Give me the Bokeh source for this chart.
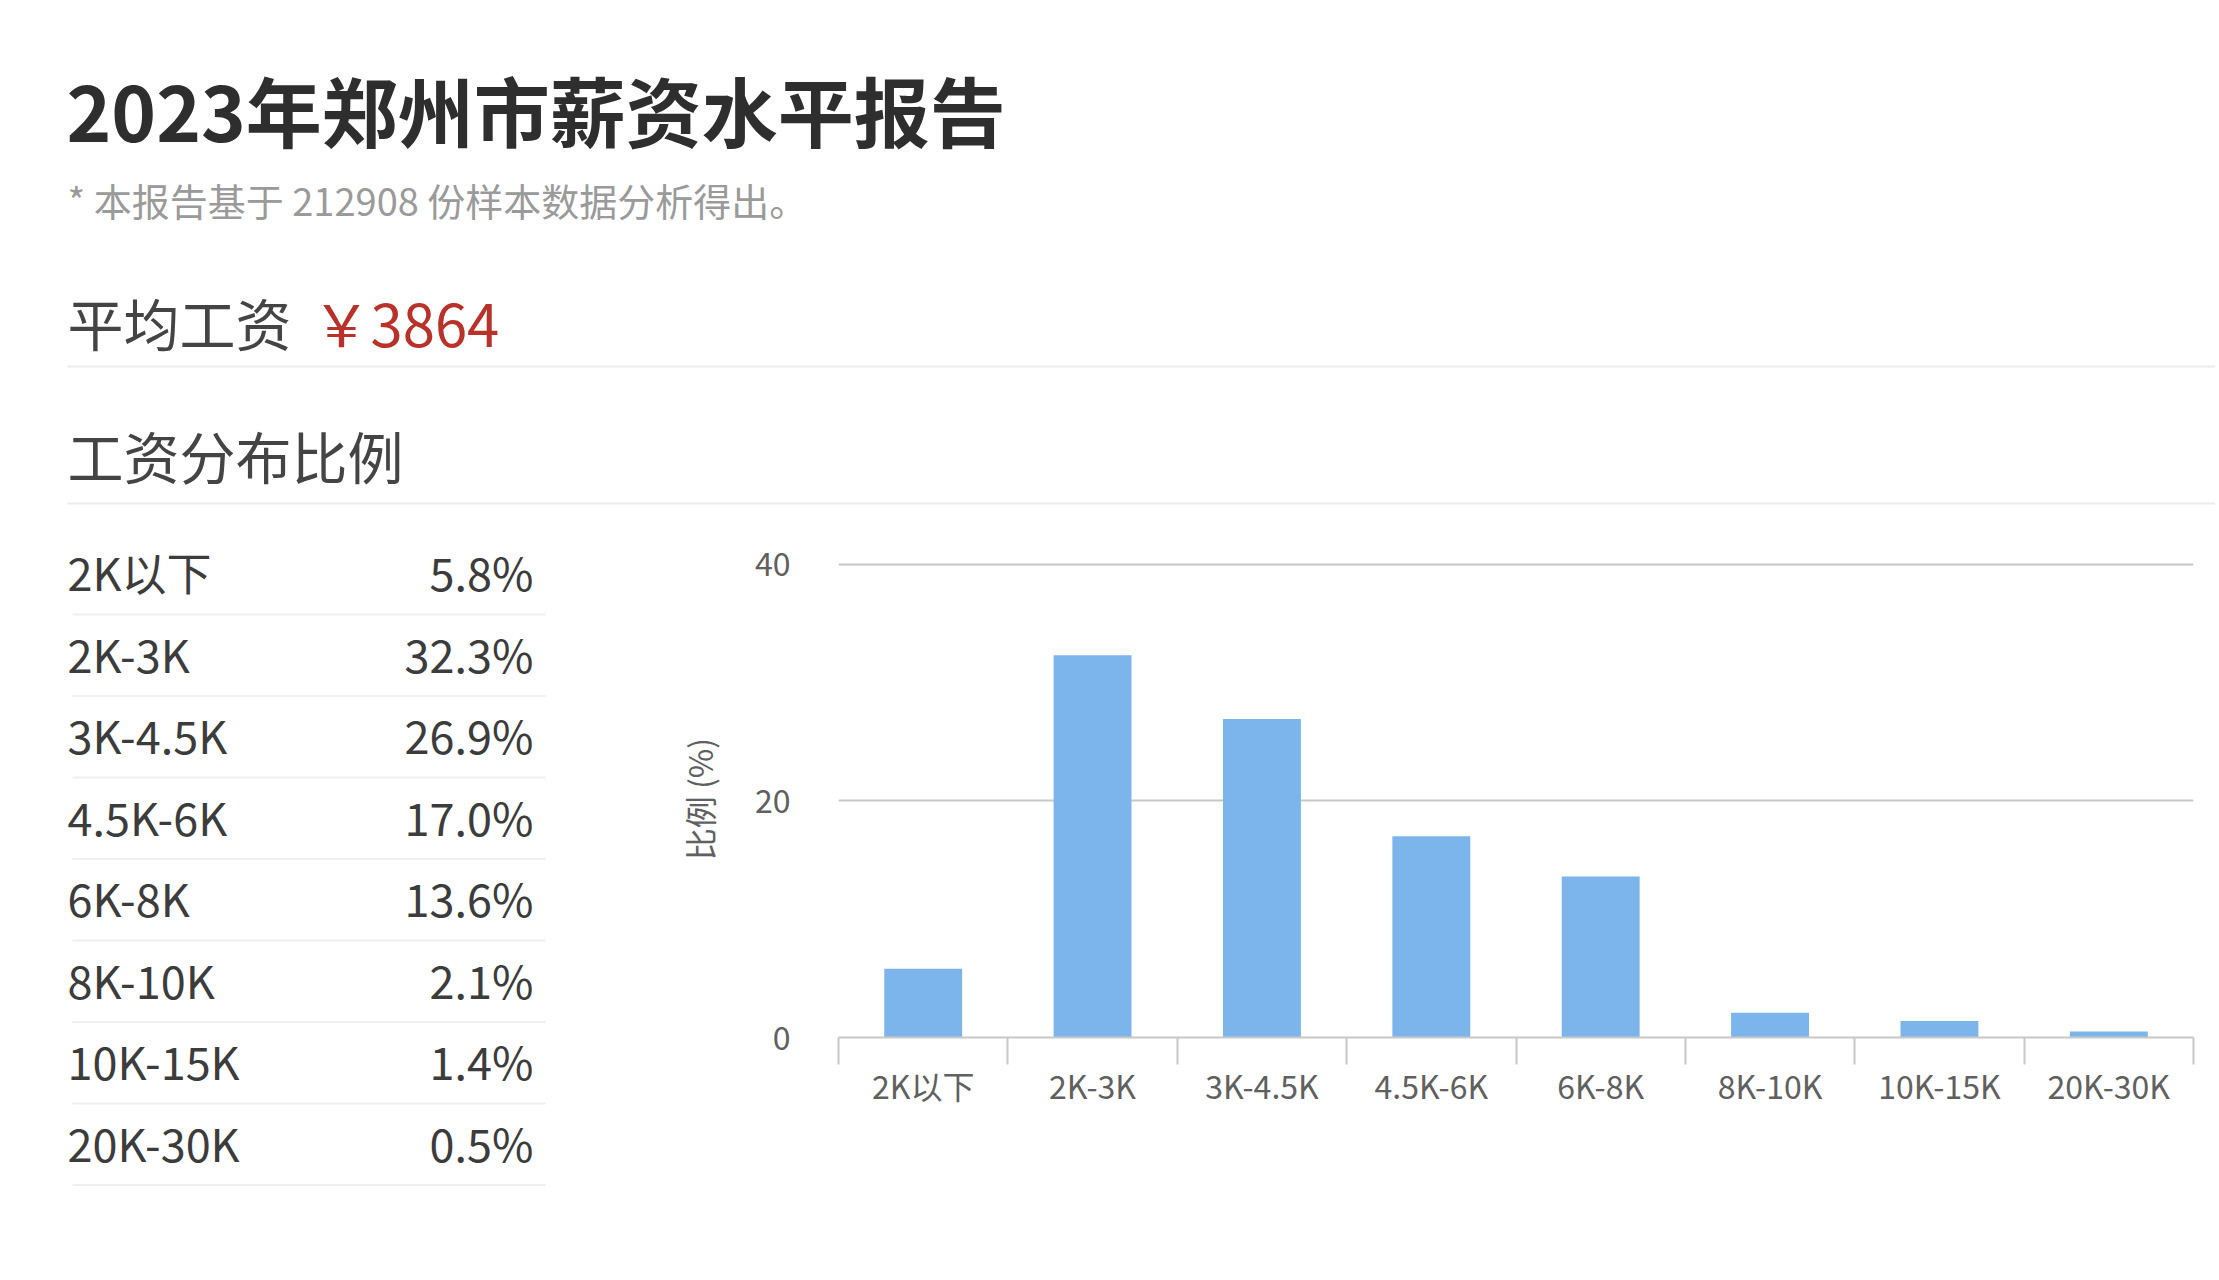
from bokeh.plotting import figure
from bokeh.layouts import column, row
from bokeh.models import Range1d, FixedTicker
from bokeh.core.properties import value
from bokeh.embed import file_html
from bokeh.resources import INLINE

# ---- data ----
title_text = "2023年郑州市薪资水平报告"
subtitle_text = "* 本报告基于 212908 份样本数据分析得出。"
avg_label = "平均工资"
avg_value = "￥3864"
section_title = "工资分布比例"
categories = ["2K以下", "2K-3K", "3K-4.5K", "4.5K-6K", "6K-8K", "8K-10K", "10K-15K", "20K-30K"]
shares = [5.8, 32.3, 26.9, 17.0, 13.6, 2.1, 1.4, 0.5]
y_ticks = [0, 20, 40]
y_label = "比例 (%)"

FONT = "Noto Sans CJK SC"
PAGE_W = 2215


def blank(width, height):
    f = figure(width=width, height=height, x_range=Range1d(0, width), y_range=Range1d(height, 0),
               output_backend="svg", toolbar_location=None, min_border=0)
    f.axis.visible = False
    f.grid.visible = False
    f.outline_line_color = None
    f.background_fill_color = "white"
    f.border_fill_color = "white"
    f.frame_align = False
    return f


# ---- header ----
HEAD_H = 520
head = blank(PAGE_W, HEAD_H)
head.text(x=[66], y=[108], text=[title_text], text_font=value(FONT), text_font_size=value("76px"),
          text_font_style="bold", text_color="#2e2e2e", text_baseline="middle", text_align="left")
head.text(x=[67], y=[199], text=[subtitle_text], text_font=value(FONT), text_font_size=value("38px"),
          text_color="#9a9a9a", text_baseline="middle", text_align="left")
head.text(x=[67], y=[321], text=[avg_label], text_font=value(FONT), text_font_size=value("56px"),
          text_color="#444444", text_baseline="middle", text_align="left")
head.text(x=[312], y=[321], text=[avg_value], text_font=value(FONT), text_font_size=value("58px"),
          text_color="#b8322a", text_baseline="middle", text_align="left")
head.text(x=[67], y=[454], text=[section_title], text_font=value(FONT), text_font_size=value("56px"),
          text_color="#444444", text_baseline="middle", text_align="left")
head.segment(x0=[67, 67], y0=[366, 503], x1=[PAGE_W, PAGE_W], y1=[366, 503],
             line_color="#ececec", line_width=2)

# ---- table ----
ROW_H = 740
TAB_W = 600
tab = blank(TAB_W, ROW_H)
n = len(categories)
row_y = [51 + i * 81.5 for i in range(n)]
div_y = [94 + i * 81.5 for i in range(n)]
tab.segment(x0=[72] * n, y0=div_y, x1=[545] * n, y1=div_y, line_color="#efefef", line_width=2)
tab.text(x=[67] * n, y=row_y, text=categories, text_font=value(FONT), text_font_size=value("45px"),
         text_color="#3c3c3c", text_baseline="middle", text_align="left")
tab.text(x=[533] * n, y=row_y, text=[f"{v:.1f}%" for v in shares], text_font=value(FONT),
         text_font_size=value("45px"), text_color="#3c3c3c", text_baseline="middle", text_align="right")

# ---- chart ----
CH_W = PAGE_W - TAB_W
idx = list(range(n))
p = figure(width=CH_W, height=ROW_H, x_range=Range1d(-0.5, n - 0.5), y_range=Range1d(0, 40.3),
           output_backend="svg", toolbar_location=None,
           min_border_left=238, min_border_right=CH_W - 238 - (2193 - 838), min_border_top=40,
           min_border_bottom=223)
p.frame_align = False
p.vbar(x=idx, top=shares, width=0.46, fill_color="#7cb5ec", line_color=None)
p.outline_line_color = None
p.background_fill_color = "white"
p.border_fill_color = "white"
p.xgrid.visible = False
p.ygrid.grid_line_color = "#c8c8c8"
p.ygrid.grid_line_width = 2
p.ygrid.ticker = FixedTicker(ticks=y_ticks)

xa = p.xaxis[0]
xa.ticker = FixedTicker(ticks=idx, minor_ticks=[i - 0.5 for i in range(n + 1)])
xa.major_label_overrides = {i: c for i, c in enumerate(categories)}
xa.major_tick_line_color = None
xa.major_tick_in = 0
xa.major_tick_out = 0
xa.minor_tick_in = 0
xa.minor_tick_out = 27
xa.minor_tick_line_color = "#c8c8c8"
xa.minor_tick_line_width = 2
xa.axis_line_color = "#c8c8c8"
xa.axis_line_width = 2
xa.major_label_standoff = -3
xa.major_label_text_font = FONT
xa.major_label_text_font_size = "32px"
xa.major_label_text_color = "#606060"

ya = p.yaxis[0]
ya.ticker = FixedTicker(ticks=y_ticks)
ya.axis_line_color = None
ya.major_tick_line_color = None
ya.major_tick_in = 0
ya.major_tick_out = 0
ya.minor_tick_line_color = None
ya.major_label_standoff = 48
ya.major_label_text_font = FONT
ya.major_label_text_font_size = "32px"
ya.major_label_text_color = "#606060"
ya.axis_label = y_label
ya.axis_label_standoff = 30
ya.axis_label_text_font = FONT
ya.axis_label_text_font_size = "32px"
ya.axis_label_text_font_style = "normal"
ya.axis_label_text_color = "#606060"

layout = column(head, row(tab, p))
open("out.html", "w").write(file_html(layout, INLINE))
